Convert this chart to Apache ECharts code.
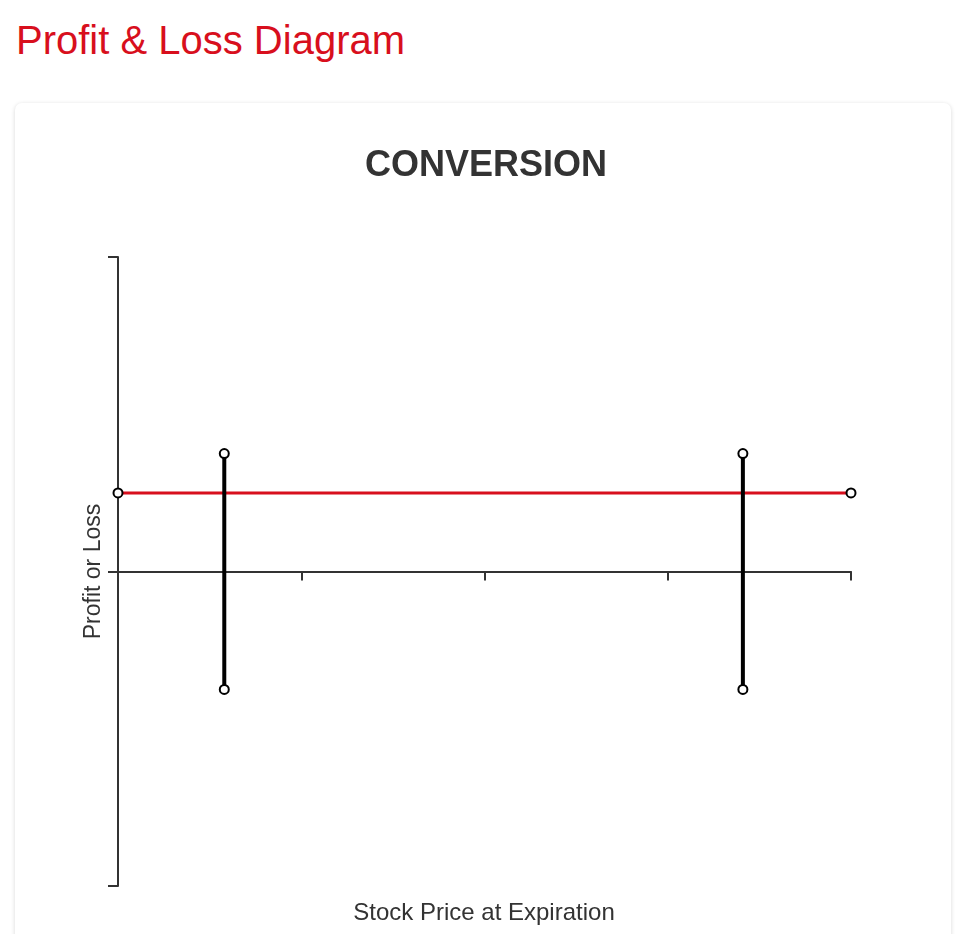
<!DOCTYPE html>
<html>
<head>
<meta charset="utf-8">
<script src="https://cdn.jsdelivr.net/npm/echarts@6/dist/echarts.min.js"></script>
<style>
  html, body { margin: 0; padding: 0; background: #fff; font-family: "Liberation Sans", Arial, sans-serif; }
  body { width: 972px; height: 934px; position: relative; overflow: hidden; }
  h1 { position: absolute; left: 16px; top: 15px; margin: 0; font-weight: normal; font-size: 40px; color: #d80f1d; line-height: 50px; }
  .card { position: absolute; left: 15px; top: 103px; width: 936px; height: 900px; background: #fff;
          border-radius: 7px; box-shadow: 0 1px 4px rgba(0,0,0,0.16); }
  #chart { position: absolute; left: 0; top: 0; width: 972px; height: 934px; }
</style>
</head>
<body>
<h1>Profit &amp; Loss Diagram</h1>
<div class="card"></div>
<div id="chart"></div>
<script>
// axis ranges (stock price / P&L in arbitrary units)
const xRange = [0, 4];
const yRange = [-4, 4];

// net position: flat profit across all prices
const netPL = [[0, 1], [4, 1]];

// strike markers (vertical bars)
const strikeLeft = [[0.58, 1.5], [0.58, -1.5]];
const strikeRight = [[3.41, 1.5], [3.41, -1.5]];

const chart = echarts.init(document.getElementById('chart'));

const dot = {
  symbol: 'circle',
  symbolSize: 9,
  itemStyle: { color: '#fff', borderColor: '#000', borderWidth: 2 }
};

chart.setOption({
  animation: false,
  title: {
    text: 'CONVERSION',
    left: 'center',
    top: 143,
    textStyle: { fontSize: 36, fontWeight: 'bold', color: '#333', fontFamily: 'Liberation Sans' }
  },
  graphic: [{
    type: 'text',
    x: 484,
    y: 901,
    style: { text: 'Stock Price at Expiration', fontSize: 24, fill: '#333', fontFamily: 'Liberation Sans', textAlign: 'center' }
  }],
  grid: { left: 118, right: 121, top: 257, bottom: 48 },
  xAxis: {
    type: 'value',
    min: xRange[0], max: xRange[1], interval: 1,
    axisLine: { onZero: true, lineStyle: { color: '#333', width: 2 } },
    axisTick: { show: true, length: 9, lineStyle: { color: '#333', width: 2 } },
    axisLabel: { show: false },
    splitLine: { show: false }
  },
  yAxis: {
    type: 'value',
    min: yRange[0], max: yRange[1], interval: 4,
    name: 'Profit or Loss',
    nameLocation: 'middle',
    nameGap: 13,
    nameTextStyle: { fontSize: 23, color: '#333', fontFamily: 'Liberation Sans' },
    axisLine: { show: true, onZero: false, lineStyle: { color: '#333', width: 2 } },
    axisTick: { show: true, length: 10, lineStyle: { color: '#333', width: 2 } },
    axisLabel: { show: false },
    splitLine: { show: false }
  },
  series: [
    Object.assign({ type: 'line', data: netPL, lineStyle: { color: '#d80f1d', width: 3 } }, dot),
    Object.assign({ type: 'line', data: strikeLeft, lineStyle: { color: '#000', width: 4 } }, dot),
    Object.assign({ type: 'line', data: strikeRight, lineStyle: { color: '#000', width: 4 } }, dot)
  ]
});
</script>
</body>
</html>
